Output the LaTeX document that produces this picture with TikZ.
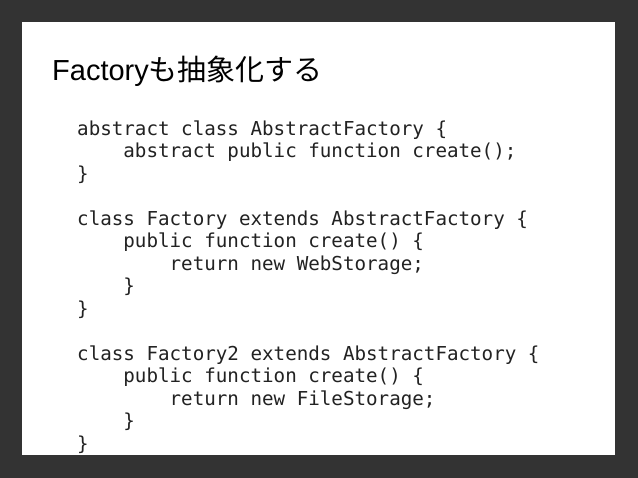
\documentclass[tikz,border=0pt]{standalone}
\usepackage{fontspec}
\setmainfont{Liberation Sans}
\newfontfamily\cjk{Noto Sans CJK JP}
\newfontfamily\codefont{DejaVu Sans Mono}
\definecolor{bgdark}{HTML}{333333}
\definecolor{codecol}{HTML}{222222}
\begin{document}
\begin{tikzpicture}[x=1pt,y=-1pt,
  codeline/.style={anchor=base west,inner sep=0pt,text=codecol,font=\codefont\fontsize{19.2}{22}\selectfont}]
\fill[bgdark] (0,0) rectangle (638,478);
\fill[white] (22,22) rectangle (615,455);
\useasboundingbox (0,0) rectangle (638,478);
\node[anchor=base west,inner sep=0pt,font=\fontsize{29}{34}\selectfont] (title) at (52,81) {Factory{\cjk も抽象化する}};
\foreach \t/\ind/\row [count=\i] in {
 {abstract class AbstractFactory \{}/0/0,
 {abstract public function create();}/4/1,
 {\}}/0/2,
 {class Factory extends AbstractFactory \{}/0/4,
 {public function create() \{}/4/5,
 {return new WebStorage;}/8/6,
 {\}}/4/7,
 {\}}/0/8,
 {class Factory2 extends AbstractFactory \{}/0/10,
 {public function create() \{}/4/11,
 {return new FileStorage;}/8/12,
 {\}}/4/13,
 {\}}/0/14}
 \node[codeline] (l\i) at ({77+\ind*11.56},{135.5+\row*22.5}) {\t};
\end{tikzpicture}
\end{document}
